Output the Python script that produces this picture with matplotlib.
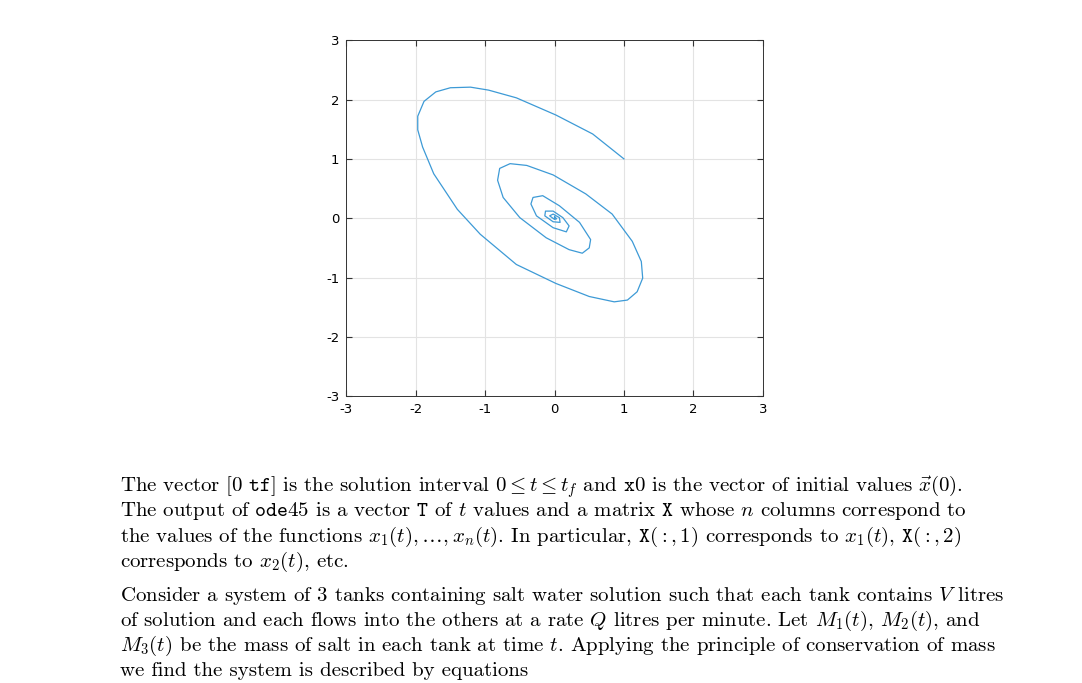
import matplotlib
matplotlib.use("Agg")
import matplotlib.pyplot as plt

plt.rcParams['mathtext.fontset'] = 'cm'
plt.rcParams['axes.unicode_minus'] = False

x1 = [1.0, 0.55, 0.02, -0.55, -0.95, -1.21, -1.5, -1.71, -1.88, -1.97, -1.97, -1.90, -1.74, -1.40, -1.07,
      -0.55, 0.02, 0.5, 0.86, 1.05, 1.19, 1.27, 1.25, 1.12, 0.83, 0.45, -0.02, -0.40, -0.64, -0.79,
      -0.82, -0.74, -0.50, -0.12, 0.21, 0.40, 0.50, 0.52, 0.36, 0.07, -0.17, -0.31, -0.34, -0.26,
      -0.02, 0.17, 0.21, 0.12, -0.02, -0.13, -0.14, -0.02, 0.08, 0.07, -0.02, -0.07, 0.0, 0.03, 0.0, 0.0]
x2 = [1.0, 1.42, 1.74, 2.03, 2.16, 2.21, 2.20, 2.13, 1.97, 1.72, 1.49, 1.20, 0.75, 0.15, -0.27,
      -0.78, -1.10, -1.32, -1.41, -1.38, -1.24, -1.01, -0.73, -0.39, 0.07, 0.41, 0.73, 0.89, 0.92, 0.84,
      0.64, 0.35, 0.01, -0.33, -0.53, -0.59, -0.50, -0.36, -0.07, 0.21, 0.38, 0.35, 0.24, 0.04,
      -0.16, -0.23, -0.13, 0.01, 0.12, 0.12, 0.04, -0.06, -0.07, 0.01, 0.07, 0.04, -0.02, -0.01, 0.03, 0.0]
ticks = [-3, -2, -1, 0, 1, 2, 3]

fig = plt.figure(figsize=(10.82, 6.83), dpi=100)
ax = fig.add_axes([0.320, 0.420, 0.385, 0.521])
ax.plot(x1, x2, color='#3d9ad6', lw=0.9)
ax.set_xlim(-3, 3); ax.set_ylim(-3, 3)
ax.set_xticks(ticks); ax.set_yticks(ticks)
ax.set_xticklabels([str(t) for t in ticks]); ax.set_yticklabels([str(t) for t in ticks])
ax.grid(True, color='#e3e3e3', lw=0.8)
ax.tick_params(direction='in', top=True, right=True, labelsize=9.5, length=4, color='#333333', pad=5)
for s in ax.spines.values():
    s.set_color('#333333'); s.set_linewidth(0.7)

lines = [
    (487, r"The vector $\mathtt{[0\ tf]}$ is the solution interval $0 \leq t \leq t_f$ and $\mathtt{x0}$ is the vector of initial values $\vec{x}(0)$."),
    (511, r"The output of $\mathtt{ode45}$ is a vector $\mathtt{T}$ of $t$ values and a matrix $\mathtt{X}$ whose $n$ columns correspond to"),
    (537, r"the values of the functions $x_1(t),\ldots,x_n(t)$. In particular, $\mathtt{X(:,1)}$ corresponds to $x_1(t)$, $\mathtt{X(:,2)}$"),
    (562, r"corresponds to $x_2(t)$, etc."),
    (596, r"Consider a system of 3 tanks containing salt water solution such that each tank contains $V$ litres"),
    (621, r"of solution and each flows into the others at a rate $Q$ litres per minute. Let $M_1(t)$, $M_2(t)$, and"),
    (646, r"$M_3(t)$ be the mass of salt in each tank at time $t$. Applying the principle of conservation of mass"),
    (671, r"we find the system is described by equations"),
]
for y, s in lines:
    fig.text(120/1082, 1 - y/683, s, family='cmr10', fontsize=15, va='center', ha='left')

fig.savefig("out.png", dpi=100)
